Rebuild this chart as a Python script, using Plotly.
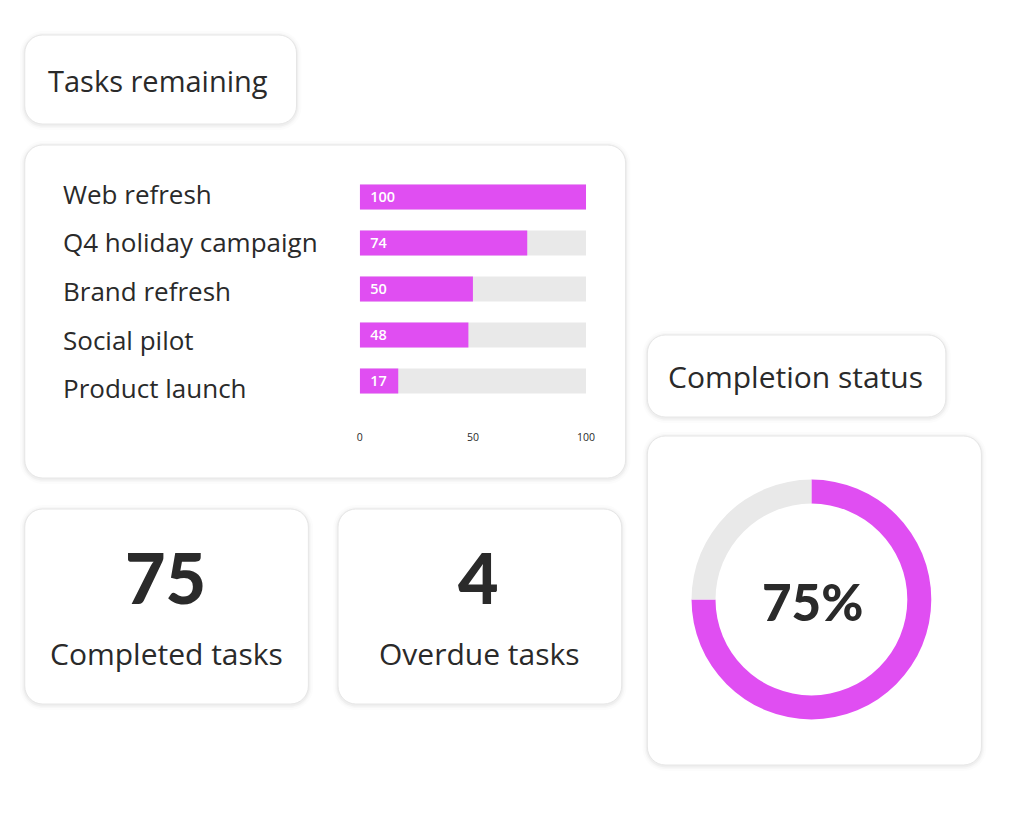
import plotly.graph_objects as go

# ---- data ----
projects = ["Web refresh", "Q4 holiday campaign", "Brand refresh", "Social pilot", "Product launch"]
tasks_remaining = [100, 74, 50, 48, 17]
bar_max = [100, 100, 100, 100, 100]
x_ticks = [0, 50, 100]
completed_tasks = 75
overdue_tasks = 4
completion_pct = 75

W, H = 1024, 822
PINK = "#E04EF2"
GRAY = "#E9E9E9"
TEXT = "#2A2A2A"
FONT = "Open Sans"
BOLD = "Lato Black, Lato"


def px(x):
    return x / W


def py(y):
    return 1 - y / H


def rrect(x0, y0, x1, y1, r):
    k = 0.45 * r
    pts = [
        f"M {px(x0 + r)},{py(y0)}",
        f"L {px(x1 - r)},{py(y0)}",
        f"C {px(x1 - k)},{py(y0)} {px(x1)},{py(y0 + k)} {px(x1)},{py(y0 + r)}",
        f"L {px(x1)},{py(y1 - r)}",
        f"C {px(x1)},{py(y1 - k)} {px(x1 - k)},{py(y1)} {px(x1 - r)},{py(y1)}",
        f"L {px(x0 + r)},{py(y1)}",
        f"C {px(x0 + k)},{py(y1)} {px(x0)},{py(y1 - k)} {px(x0)},{py(y1 - r)}",
        f"L {px(x0)},{py(y0 + r)}",
        f"C {px(x0)},{py(y0 + k)} {px(x0 + k)},{py(y0)} {px(x0 + r)},{py(y0)}",
        "Z",
    ]
    return " ".join(pts)


cards = [
    (22, 35, 297, 124),
    (22, 145, 630, 478),
    (22, 509, 309, 704),
    (339, 509, 626, 704),
    (652, 335, 954, 417),
    (652, 436, 990, 765),
]

shapes = []
for (x0, y0, x1, y1) in cards:
    for d, a in [(5, 0.012), (3, 0.02), (1.5, 0.03)]:
        shapes.append(dict(type="path", xref="paper", yref="paper", layer="below",
                           path=rrect(x0 - d, y0 - d + 1, x1 + d, y1 + d + 1, 18 + d),
                           fillcolor=f"rgba(0,0,0,{a})", line=dict(width=0)))
    shapes.append(dict(type="path", xref="paper", yref="paper", layer="below",
                       path=rrect(x0, y0, x1, y1, 18),
                       fillcolor="white", line=dict(color="#E6E6E6", width=1)))

fig = go.Figure()

fig.add_trace(go.Bar(
    y=projects, x=bar_max, orientation="h", marker=dict(color=GRAY, line=dict(width=0)),
    hoverinfo="skip", showlegend=False,
))
fig.add_trace(go.Bar(
    y=projects, x=tasks_remaining, orientation="h", marker=dict(color=PINK, line=dict(width=0)),
    texttemplate="\u00a0\u00a0%{x}", textposition="inside", insidetextanchor="start",
    textfont=dict(family=FONT, size=14.5, color="white", weight=600), textangle=0,
    cliponaxis=False, showlegend=False,
))

fig.add_trace(go.Pie(
    values=[completion_pct, 100 - completion_pct], labels=["Complete", "Remaining"],
    marker=dict(colors=[PINK, GRAY], line=dict(width=0)),
    hole=0.80, sort=False, direction="clockwise", rotation=0,
    textinfo="none", hoverinfo="skip", showlegend=False,
    domain=dict(x=[px(696.7), px(939.3)], y=[py(720.8), py(478.2)]),
))

annotations = []
for i, name in enumerate(projects):
    annotations.append(dict(text=name, x=px(59), xref="paper", y=name, yref="y",
                            xanchor="left", yanchor="middle", showarrow=False, yshift=3 - 2.5 * i,
                            font=dict(family=FONT, size=26, color=TEXT)))

annotations += [
    dict(text="Tasks remaining", x=px(44), y=py(80), xanchor="left", yanchor="middle",
         font=dict(family=FONT, size=29, color=TEXT)),
    dict(text="Completion status", x=px(671), y=py(377), xanchor="left", yanchor="middle",
         font=dict(family=FONT, size=30, color=TEXT)),
    dict(text=str(completed_tasks), x=px(164), y=py(577), xanchor="center", yanchor="middle",
         font=dict(family=BOLD, size=70, color=TEXT, weight=900)),
    dict(text="Completed tasks", x=px(165), y=py(653), xanchor="center", yanchor="middle",
         font=dict(family=FONT, size=30, color=TEXT)),
    dict(text=str(overdue_tasks), x=px(481), y=py(577), xanchor="center", yanchor="middle",
         font=dict(family=BOLD, size=70, color=TEXT, weight=900)),
    dict(text="Overdue tasks", x=px(482), y=py(653), xanchor="center", yanchor="middle",
         font=dict(family=FONT, size=30, color=TEXT)),
    dict(text=f"{completion_pct}%", x=px(819), y=py(601), xanchor="center", yanchor="middle",
         font=dict(family=BOLD, size=51, color=TEXT, weight=900)),
]
for a in annotations[len(projects):]:
    a.update(xref="paper", yref="paper", showarrow=False)

fig.update_layout(
    width=W, height=H, autosize=False, margin=dict(l=0, r=0, t=0, b=0),
    paper_bgcolor="white", plot_bgcolor="rgba(0,0,0,0)",
    barmode="overlay", bargap=0.457,
    shapes=shapes, annotations=annotations,
    xaxis=dict(domain=[px(361), px(590)], range=[0, 100], tickvals=x_ticks,
               showgrid=False, zeroline=False, showline=False, ticks="",
               ticklabelstandoff=25,
               tickfont=dict(family=FONT, size=10.5, color=TEXT), fixedrange=True),
    yaxis=dict(domain=[py(404), py(174)], autorange="reversed", showticklabels=False,
               showgrid=False, zeroline=False, showline=False, ticks="", fixedrange=True),
    font=dict(family=FONT, color=TEXT),
)

fig.write_html("out.html")
